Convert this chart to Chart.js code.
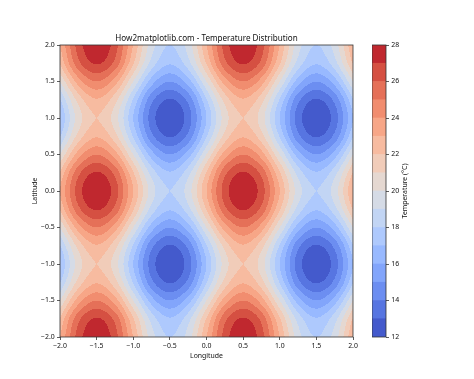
<!DOCTYPE html>
<html>
<head>
<meta charset="utf-8">
<script src="https://cdn.jsdelivr.net/npm/chart.js@4.4.1/dist/chart.umd.min.js"></script>
<style>
  html, body { margin: 0; padding: 0; background: #ffffff; }
  #wrap { position: relative; width: 474px; height: 379px; overflow: hidden; }
  canvas { position: absolute; top: 0; }
  #main { left: 0; }
  #cbar { left: 372px; }
</style>
</head>
<body>
<div id="wrap">
  <canvas id="main" width="474" height="379"></canvas>
  <canvas id="cbar" width="102" height="379"></canvas>
</div>
<script>
// ---------- data ----------
const longitudes = [-2, -1.75, -1.5, -1.25, -1, -0.75, -0.5, -0.25, 0, 0.25, 0.5, 0.75, 1, 1.25, 1.5, 1.75, 2];
const latitudes  = [-2, -1.75, -1.5, -1.25, -1, -0.75, -0.5, -0.25, 0, 0.25, 0.5, 0.75, 1, 1.25, 1.5, 1.75, 2];
// temperature[row = latitude index][col = longitude index], °C
const temperature = [
  [23, 26.5, 28, 26.5, 23, 19.5, 18, 19.5, 23, 26.5, 28, 26.5, 23, 19.5, 18, 19.5, 23],
  [22.1, 25.7, 27.1, 25.7, 22.1, 18.6, 17.1, 18.6, 22.1, 25.7, 27.1, 25.7, 22.1, 18.6, 17.1, 18.6, 22.1],
  [20, 23.5, 25, 23.5, 20, 16.5, 15, 16.5, 20, 23.5, 25, 23.5, 20, 16.5, 15, 16.5, 20],
  [17.9, 21.4, 22.9, 21.4, 17.9, 14.3, 12.9, 14.3, 17.9, 21.4, 22.9, 21.4, 17.9, 14.3, 12.9, 14.3, 17.9],
  [17, 20.5, 22, 20.5, 17, 13.5, 12, 13.5, 17, 20.5, 22, 20.5, 17, 13.5, 12, 13.5, 17],
  [17.9, 21.4, 22.9, 21.4, 17.9, 14.3, 12.9, 14.3, 17.9, 21.4, 22.9, 21.4, 17.9, 14.3, 12.9, 14.3, 17.9],
  [20, 23.5, 25, 23.5, 20, 16.5, 15, 16.5, 20, 23.5, 25, 23.5, 20, 16.5, 15, 16.5, 20],
  [22.1, 25.7, 27.1, 25.7, 22.1, 18.6, 17.1, 18.6, 22.1, 25.7, 27.1, 25.7, 22.1, 18.6, 17.1, 18.6, 22.1],
  [23, 26.5, 28, 26.5, 23, 19.5, 18, 19.5, 23, 26.5, 28, 26.5, 23, 19.5, 18, 19.5, 23],
  [22.1, 25.7, 27.1, 25.7, 22.1, 18.6, 17.1, 18.6, 22.1, 25.7, 27.1, 25.7, 22.1, 18.6, 17.1, 18.6, 22.1],
  [20, 23.5, 25, 23.5, 20, 16.5, 15, 16.5, 20, 23.5, 25, 23.5, 20, 16.5, 15, 16.5, 20],
  [17.9, 21.4, 22.9, 21.4, 17.9, 14.3, 12.9, 14.3, 17.9, 21.4, 22.9, 21.4, 17.9, 14.3, 12.9, 14.3, 17.9],
  [17, 20.5, 22, 20.5, 17, 13.5, 12, 13.5, 17, 20.5, 22, 20.5, 17, 13.5, 12, 13.5, 17],
  [17.9, 21.4, 22.9, 21.4, 17.9, 14.3, 12.9, 14.3, 17.9, 21.4, 22.9, 21.4, 17.9, 14.3, 12.9, 14.3, 17.9],
  [20, 23.5, 25, 23.5, 20, 16.5, 15, 16.5, 20, 23.5, 25, 23.5, 20, 16.5, 15, 16.5, 20],
  [22.1, 25.7, 27.1, 25.7, 22.1, 18.6, 17.1, 18.6, 22.1, 25.7, 27.1, 25.7, 22.1, 18.6, 17.1, 18.6, 22.1],
  [23, 26.5, 28, 26.5, 23, 19.5, 18, 19.5, 23, 26.5, 28, 26.5, 23, 19.5, 18, 19.5, 23]
];
const levels = [12, 13, 14, 15, 16, 17, 18, 19, 20, 21, 22, 23, 24, 25, 26, 27, 28];
const xTickValues = [-2, -1.5, -1, -0.5, 0, 0.5, 1, 1.5, 2];
const yTickValues = [-2, -1.5, -1, -0.5, 0, 0.5, 1, 1.5, 2];
const cbarTickValues = [12, 14, 16, 18, 20, 22, 24, 26, 28];
const titleText = 'How2matplotlib.com - Temperature Distribution';
const xTitle = 'Longitude';
const yTitle = 'Latitude';
const cbarTitle = 'Temperature (°C)';

// ---------- styles ----------
const bandColors = [
  [68, 90, 204], [87, 117, 225], [108, 142, 241], [130, 165, 251],
  [152, 185, 255], [174, 201, 253], [194, 213, 244], [213, 219, 230],
  [229, 216, 209], [241, 204, 185], [247, 187, 160], [247, 166, 135],
  [241, 141, 111], [229, 112, 88], [213, 80, 66], [192, 40, 47]
];
const FONT = '"Noto Sans", "Open Sans", sans-serif';
const tickFont = { family: FONT, size: 6.9 };
const textColor = '#111';
const spineColor = '#333';

function fmt(v) {
  return (v < 0 ? '\u2212' : '') + Math.abs(v).toFixed(1);
}

// Catmull-Rom helper with linear extrapolation at the ends
function sample(arr, i) {
  const n = arr.length;
  if (i < 0) return 2 * arr[0] - arr[1];
  if (i > n - 1) return 2 * arr[n - 1] - arr[n - 2];
  return arr[i];
}
function interp1(arr, g) {
  const n = arr.length;
  let i = Math.floor(g);
  if (i < 0) i = 0;
  if (i > n - 2) i = n - 2;
  const t = g - i;
  const p0 = sample(arr, i - 1), p1 = sample(arr, i), p2 = sample(arr, i + 1), p3 = sample(arr, i + 2);
  return 0.5 * (2 * p1 + (-p0 + p2) * t + (2 * p0 - 5 * p1 + 4 * p2 - p3) * t * t + (-p0 + 3 * p1 - 3 * p2 + p3) * t * t * t);
}
function bandOf(v) {
  for (let k = 0; k < levels.length - 1; k++) {
    if (v < levels[k + 1]) return k;
  }
  return levels.length - 2;
}

const contourPlugin = {
  id: 'contourFill',
  beforeDatasetsDraw(chart) {
    const { ctx, chartArea: a, scales: { x, y } } = chart;
    const L = Math.round(a.left), T = Math.round(a.top);
    const W = Math.round(a.right) - L, H = Math.round(a.bottom) - T;
    const off = document.createElement('canvas');
    off.width = W; off.height = H;
    const octx = off.getContext('2d');
    const img = octx.createImageData(W, H);
    const dLon = longitudes[1] - longitudes[0];
    const dLat = latitudes[1] - latitudes[0];
    const colVals = [];
    for (let px = 0; px < W; px++) {
      const lon = x.getValueForPixel(L + px + 0.5);
      const gx = (lon - longitudes[0]) / dLon;
      colVals.push(temperature.map(row => interp1(row, gx)));
    }
    for (let py = 0; py < H; py++) {
      const lat = y.getValueForPixel(T + py + 0.5);
      const gy = (lat - latitudes[0]) / dLat;
      for (let px = 0; px < W; px++) {
        const v = interp1(colVals[px], gy);
        const c = bandColors[bandOf(v)];
        const o = (py * W + px) * 4;
        img.data[o] = c[0]; img.data[o + 1] = c[1]; img.data[o + 2] = c[2]; img.data[o + 3] = 255;
      }
    }
    octx.putImageData(img, 0, 0);
    ctx.save();
    ctx.drawImage(off, L, T);
    ctx.restore();
  },
  afterDraw(chart) {
    const { ctx, chartArea: a } = chart;
    ctx.save();
    ctx.strokeStyle = spineColor;
    ctx.lineWidth = 0.8;
    ctx.strokeRect(a.left, a.top, a.right - a.left, a.bottom - a.top);
    ctx.fillStyle = textColor;
    ctx.textAlign = 'center';
    ctx.textBaseline = 'middle';
    ctx.font = '8.1px ' + FONT;
    const cx = (a.left + a.right) / 2;
    ctx.fillText(titleText, cx, 38.5);
    ctx.font = '6.9px ' + FONT;
    ctx.fillText(xTitle, cx, 356);
    ctx.translate(35, (a.top + a.bottom) / 2);
    ctx.rotate(-Math.PI / 2);
    ctx.fillText(yTitle, 0, 0);
    ctx.restore();
  }
};

new Chart(document.getElementById('main'), {
  type: 'scatter',
  data: { datasets: [{ data: [], pointRadius: 0 }] },
  options: {
    responsive: false,
    animation: false,
    events: [],
    layout: { padding: { top: 45, right: 121, left: 0, bottom: 0 } },
    plugins: { legend: { display: false }, tooltip: { enabled: false }, title: { display: false } },
    scales: {
      x: {
        type: 'linear', min: -2, max: 2,
        afterFit: s => { s.height = 42; },
        afterBuildTicks: s => { s.ticks = xTickValues.map(v => ({ value: v })); },
        ticks: { font: tickFont, color: textColor, padding: 2.3, maxRotation: 0, autoSkip: false, callback: v => fmt(v) },
        grid: { drawOnChartArea: false, drawTicks: true, tickLength: 3, color: spineColor, lineWidth: 0.8 },
        border: { display: false }
      },
      y: {
        type: 'linear', min: -2, max: 2,
        afterFit: s => { s.width = 60; },
        afterBuildTicks: s => { s.ticks = yTickValues.map(v => ({ value: v })); },
        ticks: { font: tickFont, color: textColor, padding: 2.3, autoSkip: false, callback: v => fmt(v) },
        grid: { drawOnChartArea: false, drawTicks: true, tickLength: 3, color: spineColor, lineWidth: 0.8 },
        border: { display: false }
      }
    }
  },
  plugins: [contourPlugin]
});

const cbarPlugin = {
  id: 'cbarDeco',
  afterDraw(chart) {
    const { ctx, chartArea: a } = chart;
    ctx.save();
    ctx.strokeStyle = spineColor;
    ctx.lineWidth = 0.8;
    ctx.strokeRect(a.left, a.top, a.right - a.left, a.bottom - a.top);
    ctx.fillStyle = textColor;
    ctx.textAlign = 'center';
    ctx.textBaseline = 'middle';
    ctx.font = '6.9px ' + FONT;
    ctx.translate(405 - 372, (a.top + a.bottom) / 2);
    ctx.rotate(-Math.PI / 2);
    ctx.fillText(cbarTitle, 0, 0);
    ctx.restore();
  }
};

new Chart(document.getElementById('cbar'), {
  type: 'bar',
  data: {
    labels: [''],
    datasets: bandColors.map((c, i) => ({
      data: [[levels[i], levels[i + 1]]],
      backgroundColor: 'rgb(' + c.join(',') + ')',
      borderWidth: 0,
      barPercentage: 1,
      categoryPercentage: 1,
      grouped: false
    }))
  },
  options: {
    responsive: false,
    animation: false,
    events: [],
    layout: { padding: { top: 45, bottom: 42, left: 0, right: 0 } },
    plugins: { legend: { display: false }, tooltip: { enabled: false } },
    scales: {
      x: { display: false },
      y: {
        position: 'right', min: 12, max: 28,
        afterFit: s => { s.width = 88; },
        afterBuildTicks: s => { s.ticks = cbarTickValues.map(v => ({ value: v })); },
        ticks: { font: tickFont, color: textColor, padding: 2.3, autoSkip: false, callback: v => String(v) },
        grid: { drawOnChartArea: false, drawTicks: true, tickLength: 3, color: spineColor, lineWidth: 0.8 },
        border: { display: false }
      }
    }
  },
  plugins: [cbarPlugin]
});
</script>
</body>
</html>
